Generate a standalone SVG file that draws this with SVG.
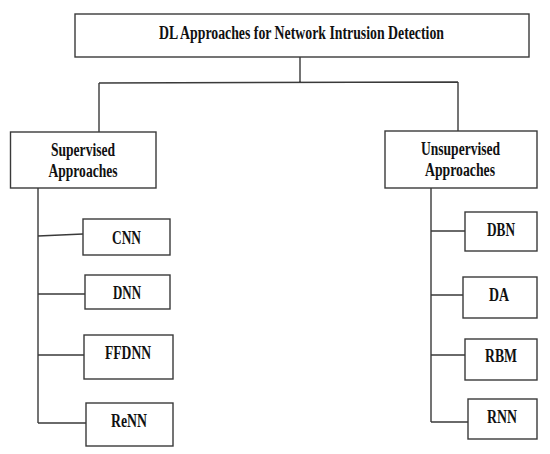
<svg xmlns="http://www.w3.org/2000/svg" width="550" height="454" viewBox="0 0 550 454">
<style>
.box{fill:#fff;stroke:#3a3a3a;stroke-width:1.4}
.ln{fill:none;stroke:#3a3a3a;stroke-width:1.4}
text{font-family:"Liberation Serif","Times New Roman",serif;font-weight:bold;fill:#111;text-anchor:middle}
.t{font-size:18px}
.c{font-size:19px}
</style>
<rect width="550" height="454" fill="#fff"/>
<g id="connectors">
<path class="ln" d="M300,57 V82.5 M99,83 L458,82 M99,83 V132 M458,82 V131"/>
<path class="ln" d="M38,188 V423 M38,236 L83,234 M38,294 H85 M38,355 H84 M38,423 H86"/>
<path class="ln" d="M431,188 V422 M431,231 H465 M431,295 H463 M431,355 H465 M431,422 H468"/>
</g>
<g id="root">
<rect class="box" x="75" y="14" width="454" height="43"/>
<text class="t" x="301.5" y="38.5" textLength="285" lengthAdjust="spacingAndGlyphs">DL Approaches for Network Intrusion Detection</text>
</g>
<g id="supervised">
<rect class="box" x="10.5" y="132" width="145.5" height="56"/>
<text class="t" x="83" y="155.5" textLength="64" lengthAdjust="spacingAndGlyphs">Supervised</text>
<text class="t" x="83" y="176.5" textLength="69" lengthAdjust="spacingAndGlyphs">Approaches</text>
</g>
<g id="unsupervised">
<rect class="box" x="385" y="131" width="152" height="57"/>
<text class="t" x="460.5" y="154.5" textLength="79" lengthAdjust="spacingAndGlyphs">Unsupervised</text>
<text class="t" x="460" y="175.5" textLength="70" lengthAdjust="spacingAndGlyphs">Approaches</text>
</g>
<g id="cnn">
<rect class="box" x="83" y="219" width="87" height="36"/>
<text class="c" x="126.5" y="243.5" textLength="29" lengthAdjust="spacingAndGlyphs">CNN</text>
</g>
<g id="dnn">
<rect class="box" x="85" y="275" width="85" height="34"/>
<text class="c" x="127" y="298.5" textLength="28" lengthAdjust="spacingAndGlyphs">DNN</text>
</g>
<g id="ffdnn">
<rect class="box" x="84" y="335" width="89" height="44"/>
<text class="c" x="128" y="358.5" textLength="46" lengthAdjust="spacingAndGlyphs">FFDNN</text>
</g>
<g id="renn">
<rect class="box" x="86" y="403" width="87" height="43"/>
<text class="c" x="129" y="426.5" textLength="36" lengthAdjust="spacingAndGlyphs">ReNN</text>
</g>
<g id="dbn">
<rect class="box" x="465" y="212" width="72" height="39"/>
<text class="c" x="501" y="235.5" textLength="28" lengthAdjust="spacingAndGlyphs">DBN</text>
</g>
<g id="da">
<rect class="box" x="463" y="277" width="74" height="41"/>
<text class="c" x="499" y="301" textLength="20" lengthAdjust="spacingAndGlyphs">DA</text>
</g>
<g id="rbm">
<rect class="box" x="465" y="339" width="72" height="41"/>
<text class="c" x="501" y="362" textLength="32" lengthAdjust="spacingAndGlyphs">RBM</text>
</g>
<g id="rnn">
<rect class="box" x="468" y="399" width="69" height="40"/>
<text class="c" x="502" y="422.5" textLength="30" lengthAdjust="spacingAndGlyphs">RNN</text>
</g>
</svg>
